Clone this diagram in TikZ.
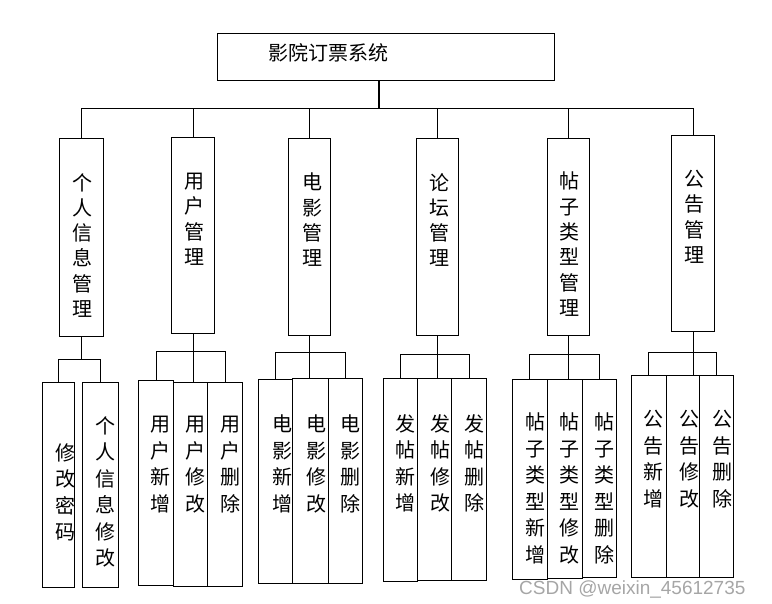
\documentclass[tikz,border=0pt]{standalone}
\usepackage{fontspec}
\newfontfamily\cjk{Noto Sans CJK SC}
\newfontfamily\wmfont{Liberation Sans}
\tikzset{
  box/.style={draw, line width=1.1pt, inner sep=0pt, anchor=north west},
  vt/.style={font=\cjk\fontsize{20}{25.3}\selectfont, align=center, inner sep=0pt, anchor=north},
  vtl/.style={font=\cjk\fontsize{20}{26.5}\selectfont, align=center, inner sep=0pt, anchor=north},
  wire/.style={line width=1.1pt}
}
\newcommand\mybox[5]{\node[box,minimum width={(#4-#2)*1pt},minimum height={(#5-#3)*1pt}] (#1) at (#2,#3) {};}
\begin{document}
\begin{tikzpicture}[x=1pt,y=-1pt]
\useasboundingbox (0,0) rectangle (772,604);
% top
\mybox{t}{216.7}{33.3}{554.3}{80.3}
\node[font=\cjk\fontsize{20}{24}\selectfont, inner sep=0pt] (tt) at (328,53) {影院订票系统};
% middle
\mybox{m1}{59.3}{138.3}{102.7}{336.3}
\mybox{m2}{171.3}{137.3}{213.7}{333.3}
\mybox{m3}{288.3}{138.3}{329.7}{335.3}
\mybox{m4}{416.3}{138.3}{457.7}{335.3}
\mybox{m5}{546.7}{138.3}{589.3}{335.3}
\mybox{m6}{671.3}{135.3}{713.7}{331}
\node[vt] (m1t) at (82.5,173) {个\\人\\信\\息\\管\\理};
\node[vt] (m2t) at (194,173) {用\\户\\管\\理};
\node[vt] (m3t) at (312,173) {电\\影\\管\\理};
\node[vt] (m4t) at (439.5,173) {论\\坛\\管\\理};
\node[vt] (m5t) at (569.5,172) {帖\\子\\类\\型\\管\\理};
\node[vt] (m6t) at (694,170) {公\\告\\管\\理};
% lower
\mybox{c11}{42.3}{381.7}{74.3}{587}
\mybox{c12}{81.7}{381.7}{118.3}{587}
\mybox{c21}{138.3}{380.3}{172.7}{585.3}
\mybox{c22}{172.7}{381.7}{207.3}{586.3}
\mybox{c23}{207.3}{381.7}{242.3}{586.3}
\mybox{c31}{258.3}{379.3}{292.3}{583.3}
\mybox{c32}{292.3}{378.3}{327.7}{583.3}
\mybox{c33}{327.7}{378.3}{362.3}{583.3}
\mybox{c41}{382.7}{378.3}{416.7}{581}
\mybox{c42}{416.7}{378.3}{451.3}{580}
\mybox{c43}{451.3}{378.3}{485.7}{580}
\mybox{c51}{511.7}{378.7}{546.7}{579.3}
\mybox{c52}{546.7}{378.7}{581.7}{578.3}
\mybox{c53}{581.7}{378.7}{616.3}{577.3}
\mybox{c61}{630.7}{375.3}{665.7}{577.3}
\mybox{c62}{665.7}{375.3}{699.3}{577.3}
\mybox{c63}{699.3}{375.3}{733.3}{577.3}
\node[vtl] (c11t) at (65,443) {修\\改\\密\\码};
\node[vtl] (c12t) at (105,416) {个\\人\\信\\息\\修\\改};
\node[vtl] (c21t) at (160,416) {用\\户\\新\\增};
\node[vtl] (c22t) at (195.7,416) {用\\户\\修\\改};
\node[vtl] (c23t) at (230,416) {用\\户\\删\\除};
\node[vtl] (c31t) at (282.3,415) {电\\影\\新\\增};
\node[vtl] (c32t) at (316,415) {电\\影\\修\\改};
\node[vtl] (c33t) at (350.7,415) {电\\影\\删\\除};
\node[vtl] (c41t) at (405.7,414) {发\\帖\\新\\增};
\node[vtl] (c42t) at (440.7,414) {发\\帖\\修\\改};
\node[vtl] (c43t) at (474.3,414) {发\\帖\\删\\除};
\node[vtl] (c51t) at (535,413) {帖\\子\\类\\型\\新\\增};
\node[vtl] (c52t) at (569.3,413) {帖\\子\\类\\型\\修\\改};
\node[vtl] (c53t) at (604.3,413) {帖\\子\\类\\型\\删\\除};
\node[vtl] (c61t) at (653.3,410) {公\\告\\新\\增};
\node[vtl] (c62t) at (689,410) {公\\告\\修\\改};
\node[vtl] (c63t) at (722.7,410) {公\\告\\删\\除};
% connectors top level
\coordinate (bus) at (379,108.3);
\draw[wire] (bus |- t.south) -- (bus);
\draw[wire] (m1.north) |- (m6.north |- bus) -- (m6.north);
\draw[wire] (m2.north) -- (m2.north |- bus);
\draw[wire] (m3.north) -- (m3.north |- bus);
\draw[wire] (m4.north) -- (m4.north |- bus);
\draw[wire] (m5.north) -- (m5.north |- bus);
% group connectors
\coordinate (g1) at (0,359.3);
\coordinate (g2) at (0,351.7);
\coordinate (g3) at (0,352.7);
\coordinate (g4) at (0,354.3);
\coordinate (g5) at (0,354.3);
\coordinate (g6) at (0,352.7);
\draw[wire] (m1.south) -- (m1.south |- g1);
\draw[wire] (c11.north) |- (c12.north |- g1) -- (c12.north);
\draw[wire] (m2.south) -- (m2.south |- c22.north);
\draw[wire] (c21.north) |- (c23.north |- g2) -- (c23.north);
\draw[wire] (m3.south) -- (m3.south |- c32.north);
\draw[wire] (c31.north) |- (c33.north |- g3) -- (c33.north);
\draw[wire] (m4.south) -- (m4.south |- c42.north);
\draw[wire] (c41.north) |- (c43.north |- g4) -- (c43.north);
\draw[wire] (m5.south) -- (m5.south |- c52.north);
\draw[wire] (c51.north) |- (c53.north |- g5) -- (c53.north);
\draw[wire] (m6.south) -- (m6.south |- c62.north);
\draw[wire] (c61.north) |- (c63.north |- g6) -- (c63.north);
% watermark
\node[font=\wmfont\fontsize{19}{22}\selectfont, text=black!35, anchor=base west, inner sep=0pt] (wm) at (519,594) {CSDN @weixin\_45612735};
\end{tikzpicture}
\end{document}
